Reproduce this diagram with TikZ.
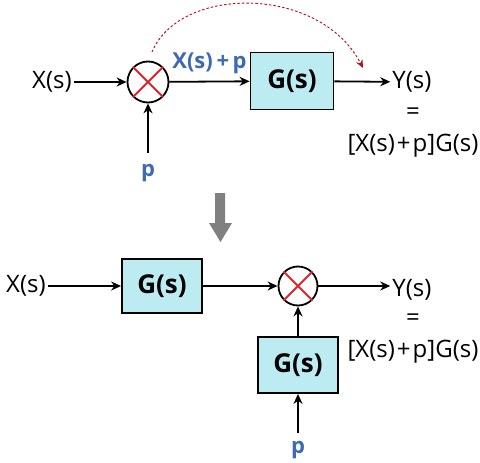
\documentclass[tikz,border=0pt]{standalone}
\usepackage{fontspec}
\setmainfont{Open Sans}
\usetikzlibrary{arrows.meta}
\definecolor{boxfill}{HTML}{BDEBF2}
\definecolor{lblue}{HTML}{3F68B5}
\definecolor{xred}{HTML}{E0242C}
\definecolor{arcred}{HTML}{B01020}
\definecolor{bigarrow}{HTML}{808080}
\begin{document}
\begin{tikzpicture}[x=1pt,y=-1pt,
 txt/.style={font=\fontsize{24}{26}\selectfont, inner sep=2pt},
 lbl/.style={font=\bfseries\fontsize{22}{24}\selectfont, text=lblue, inner sep=1pt},
 gbox/.style={draw, line width=1.8pt, fill=boxfill, minimum width=83pt, minimum height=57pt, font=\bfseries\fontsize{26}{28}\selectfont, inner sep=0pt},
 sumj/.style={draw, circle, line width=1.8pt, minimum size=41pt, inner sep=0pt},
 conn/.style={line width=1.8pt, -{Stealth[length=10pt,width=9pt]}},
 cross/.style={xred, line width=1.8pt},
]
\useasboundingbox (0,0) rectangle (480,463);
\fill[white] (0,0) rectangle (480,463);

% ---- top diagram ----
\node[txt] (xs1) at (52,82) {X(s)};
\node[sumj] (sum1) at (148,82) {};
\draw[cross] (sum1.45) -- (sum1.225) (sum1.135) -- (sum1.315);
\node[gbox] (g1) at (292,81) {G(s)};
\node[txt] (ys1) at (412,82) {Y(s)};
\node[txt] (eq1) at (413,114) {=};
\node[txt] (res1) at (413,146) {[X(s)\kern2pt+\kern2pt p]G(s)};
\node[lbl] (p1) at (148,173) {p};
\coordinate (p1s) at (148,153);

\draw[conn] (xs1) -- (sum1);
\draw[conn] (sum1) -- node[lbl, above=6pt] {X(s)\,+\,p} (g1);
\draw[conn] (g1) -- (ys1);
\draw[conn] (p1s) -- (sum1);

\coordinate (arcs) at (152,52);
\coordinate (arce) at (363,68);
\draw[arcred, line width=0.9pt, dash pattern=on 2.5pt off 2pt, -{Stealth[length=8pt,width=7pt]}]
  (arcs) .. controls (180,-15) and (320,-15) .. (arce);

% ---- big arrow ----
\fill[bigarrow] (215,193) -- (225,193) -- (225,223) -- (232,223) -- (220.5,242) -- (209,223) -- (215,223) -- cycle;

% ---- bottom diagram ----
\node[txt] (xs2) at (26,286) {X(s)};
\node[gbox, minimum width=80pt, minimum height=54pt] (g2) at (162,286) {G(s)};
\node[sumj, minimum size=39pt] (sum2) at (298,286) {};
\draw[cross] (sum2.45) -- (sum2.225) (sum2.135) -- (sum2.315);
\node[txt] (ys2) at (412,290) {Y(s)};
\node[txt] (eq2) at (413,320) {=};
\node[txt] (res2) at (413,352) {[X(s)\kern2pt+\kern2pt p]G(s)};
\node[gbox, minimum width=80pt, minimum height=56pt] (g3) at (298,365) {G(s)};
\node[lbl] (p2) at (298,450) {p};
\coordinate (p2s) at (298,433);

\draw[conn] (xs2) -- (g2);
\draw[conn] (g2) -- (sum2);
\draw[conn] (sum2) -- (sum2 -| ys2.west);
\draw[conn] (g3) -- (sum2);
\draw[conn] (p2s) -- (g3);
\end{tikzpicture}
\end{document}
